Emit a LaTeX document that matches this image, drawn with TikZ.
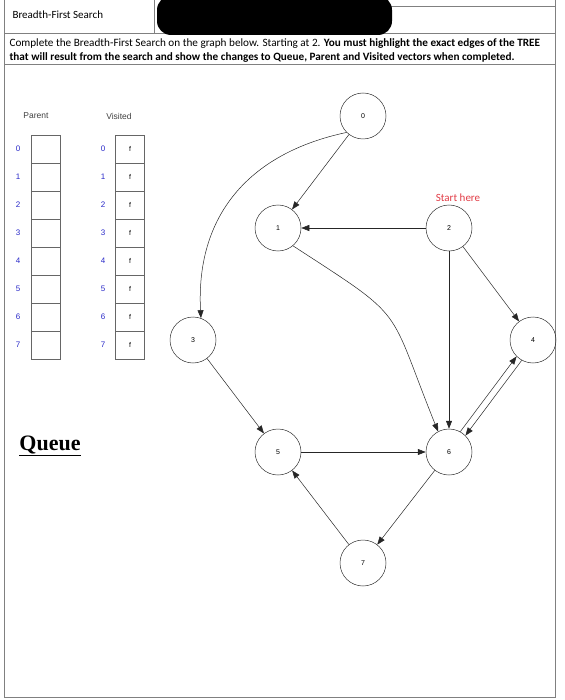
\documentclass[tikz,border=0pt]{standalone}
\usepackage{fontspec}
\setmainfont{Carlito}
\newfontfamily\arialfont{Liberation Sans}
\newfontfamily\timesfont{Liberation Serif}
\usetikzlibrary{arrows.meta,positioning}
\definecolor{framegray}{RGB}{128,128,128}
\definecolor{idxblue}{RGB}{40,40,200}
\definecolor{startred}{RGB}{225,60,70}
\tikzset{
  vtx/.style={circle,draw=black!80,line width=0.5pt,minimum size=46pt,inner sep=0pt,
    font=\arialfont\fontsize{7}{7}\selectfont},
  arr/.style={-{Triangle[length=8pt,width=6pt]},line width=0.5pt,black!85},
  cell/.style={draw=black!60,line width=0.5pt,minimum width=29pt,minimum height=28pt,
    inner sep=0pt,font=\arialfont\fontsize{7}{7}\selectfont},
  idx/.style={text=idxblue,font=\arialfont\fontsize{8}{8}\selectfont},
  colhead/.style={text=black!75,font=\arialfont\fontsize{8.5}{8.5}\selectfont},
  frame/.style={draw=framegray,line width=0.8pt}
}
\begin{document}
\begin{tikzpicture}[x=1pt,y=1pt]
\useasboundingbox (0,0) rectangle (564,-700);
% page frame
\draw[frame] (4,0) -- (4,-697) -- (555,-697) -- (555,0);
\draw[frame] (4,-33) -- (555,-33);
\draw[frame] (4,-64) -- (555,-64);
\draw[frame] (154,0) -- (154,-33);
\draw[frame] (283,-20) -- (283,-33) (330,-20) -- (330,-33);
\draw[frame] (390,-6) -- (555,-6);
\fill[black,rounded corners=14pt] (157,4) rectangle (392,-35);

\node[anchor=west,font=\fontsize{11}{12}\selectfont] (title) at (9,-15) {Breadth-First Search};
\node[anchor=north west,align=left,font=\fontsize{11.2}{14}\selectfont] (task) at (6,-35)
  {Complete the Breadth-First Search on the graph below. Starting at 2. \textbf{You must highlight the exact edges of the TREE}\\
   \textbf{that will result from the search and show the changes to Queue, Parent and Visited vectors when completed.}};

% parent and visited vectors
\node[colhead] (parent) at (36,-116) {Parent};
\node[colhead] (visited) at (119,-116) {Visited};
\foreach \i in {0,...,7}{
  \node[cell] (p\i) at (45.5,-149-28*\i) {};
  \node[idx] (pi\i) at (18,-149-28*\i) {\i};
  \node[cell] (v\i) at (130,-149-28*\i) {f};
  \node[idx] (vi\i) at (103,-149-28*\i) {\i};
}
\node[font=\timesfont\bfseries\fontsize{22}{22}\selectfont] (queue) at (50,-446) {\underline{Queue}};

% graph
\node[vtx] (n0) at (363,-116) {0};
\node[vtx] (n1) at (278,-228) {1};
\node[vtx] (n2) at (449,-228) {2};
\node[vtx] (n3) at (193,-340) {3};
\node[vtx] (n4) at (533,-340) {4};
\node[vtx] (n5) at (278,-452) {5};
\node[vtx] (n6) at (449,-452) {6};
\node[vtx] (n7) at (363,-563) {7};
\node[text=startred,font=\fontsize{11}{11}\selectfont,above=0pt of n2,xshift=9pt] (start) {Start here};

\draw[arr] (n0) -- (n1);
\draw[arr] (n0.225) to[out=192,in=93,looseness=1.1] (n3.70);
\draw[arr] (n2) -- (n1);
\draw[arr] (n1.-50) to[out=-33,in=112,looseness=1.5] (n6.118);
\draw[arr] (n2) -- (n6);
\draw[arr] (n2) -- (n4);
\draw[arr] (n4.241) -- (n6.45);
\draw[arr] (n6.61) -- (n4.225);
\draw[arr] (n3) -- (n5);
\draw[arr] (n5) -- (n6);
\draw[arr] (n6) -- (n7);
\draw[arr] (n7) -- (n5);
\end{tikzpicture}
\end{document}
